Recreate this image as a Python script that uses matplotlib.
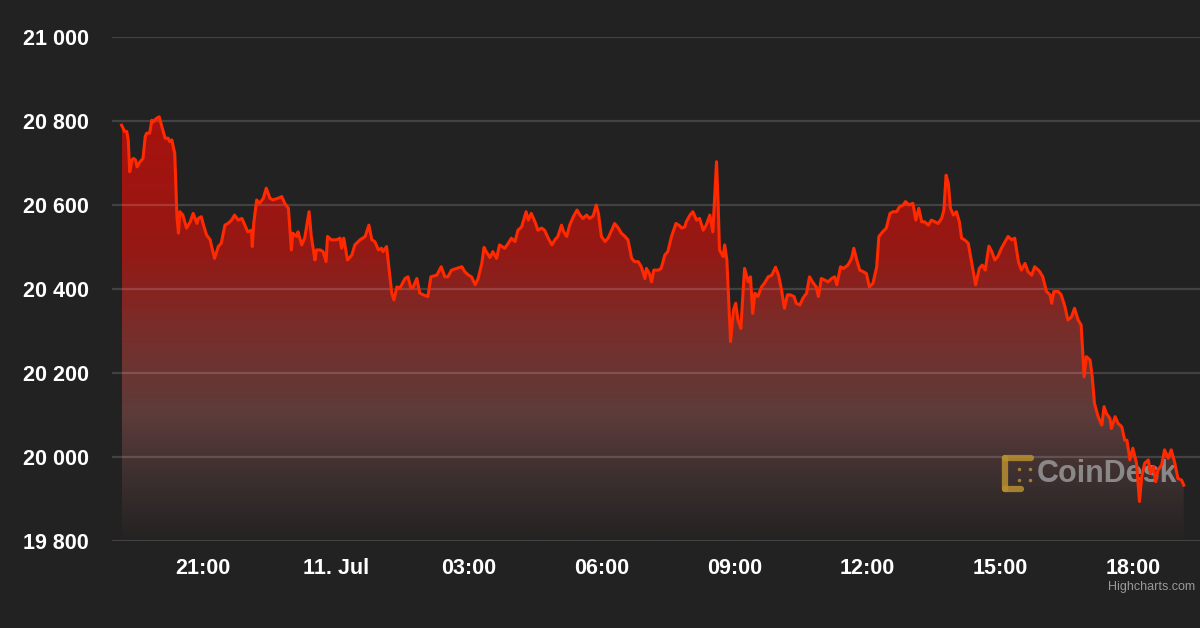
"""BTC price, last 24h - dark Highcharts look"""

import numpy as np
import pandas as pd
import matplotlib

matplotlib.use("Agg")
import matplotlib.pyplot as plt
import matplotlib.dates as mdates
from matplotlib.ticker import FuncFormatter
from matplotlib.colors import LinearSegmentedColormap
from matplotlib.lines import Line2D

START = "2022-07-10 19:10"

# minutes after START
minutes = [
    0, 2, 4, 7, 9, 11, 14, 16, 19, 21, 25, 29, 32, 34, 38, 41, 43, 47, 51, 54,
    59, 63, 65, 68, 72, 75, 77, 79, 83, 88, 93, 97, 102, 104, 108, 111, 115, 120, 122, 126,
    131, 135, 140, 144, 149, 153, 158, 163, 167, 171, 176, 177, 179, 183, 187, 192, 196, 201, 205, 212,
    217, 221, 226, 230, 232, 237, 239, 244, 248, 254,
    257, 262, 264, 269, 273, 277, 279, 284, 291, 296, 298, 301, 306, 312, 316, 323, 330, 335, 339, 343,
    348, 352, 354, 359, 361, 366, 369, 373, 377, 384, 388, 392, 395, 400, 404, 409, 415, 419, 427, 433,
    438, 442, 447, 454, 461, 465, 470, 474, 479, 483, 488, 491, 494, 499,
    503, 508, 512, 519, 524, 528, 533, 537, 542, 548, 551, 555, 560, 564, 569, 573, 578, 583, 587, 591,
    596, 599, 603, 607, 612, 617, 621, 625, 630, 634, 639, 643, 646, 650, 655, 659, 664, 668, 673, 677,
    682, 686, 691, 695, 700, 704, 709, 711, 715, 718, 721, 727, 731, 736, 740, 745, 751, 755, 759, 763,
    765, 770, 774, 779, 783, 788, 792, 797, 801, 806, 808, 810, 815, 817, 820, 823, 825, 829, 832, 835,
    839, 841, 844, 849, 852, 855, 858, 862, 867, 871, 876, 881, 886, 890, 894, 898, 902, 906, 911, 914,
    919, 923, 928, 932, 936, 941, 944, 948, 953, 957, 962, 966, 969, 974, 978, 984, 989, 992, 996, 1000,
    1005, 1009, 1013, 1018,
    1023, 1026, 1031, 1036, 1041, 1045, 1050, 1054, 1059, 1062, 1067, 1072, 1076, 1080, 1084, 1088, 1093, 1097, 1102, 1106,
    1111, 1114, 1117, 1120, 1123, 1127, 1131, 1135, 1138, 1142, 1147, 1151, 1157, 1162, 1166, 1170, 1175, 1179, 1183, 1187,
    1192, 1197, 1201, 1206, 1210, 1215, 1219, 1224, 1228, 1233, 1237, 1242,
    1244, 1248, 1253, 1258, 1260, 1263, 1269, 1273, 1278, 1282, 1287, 1291, 1296, 1300, 1304, 1307, 1312, 1315, 1318, 1323,
    1328, 1331, 1334, 1339, 1341, 1346, 1350, 1355, 1359, 1362, 1366, 1370, 1375, 1379, 1382, 1386, 1391, 1394, 1398, 1401,
    1404, 1409, 1413, 1418, 1422, 1427, 1431, 1436, 1439,
]

# BTC price in USD
price = [
    20790, 20783, 20775, 20775, 20755, 20679, 20707, 20711, 20707, 20691, 20703, 20711, 20763, 20771, 20771, 20802, 20798, 20806, 20810, 20790,
    20759, 20759, 20751, 20755, 20723, 20572, 20533, 20584, 20576, 20545, 20560, 20580, 20556, 20568, 20572, 20552, 20529, 20517, 20501, 20473,
    20501, 20509, 20552, 20556, 20564, 20576, 20564, 20568, 20552, 20536, 20540, 20501, 20556, 20612, 20604, 20616, 20640, 20616, 20612, 20616,
    20620, 20604, 20592, 20493, 20533, 20525, 20536, 20505, 20521, 20584,
    20525, 20469, 20493, 20493, 20489, 20465, 20525, 20517, 20517, 20521, 20497, 20521, 20469, 20481, 20505, 20517, 20525, 20552, 20517, 20513,
    20493, 20497, 20489, 20501, 20469, 20390, 20374, 20405, 20402, 20425, 20429, 20402, 20405, 20425, 20390, 20386, 20382, 20429, 20433, 20453,
    20429, 20429, 20445, 20449, 20453, 20441, 20433, 20429, 20410, 20425, 20461, 20499, 20489, 20475,
    20489, 20473, 20505, 20497, 20509, 20521, 20513, 20540, 20548, 20584, 20564, 20580, 20560, 20540, 20545, 20540, 20521, 20505, 20517, 20525,
    20552, 20536, 20525, 20552, 20572, 20588, 20576, 20568, 20576, 20568, 20574, 20600, 20580, 20525, 20513, 20521, 20540, 20556, 20545, 20533,
    20525, 20517, 20473, 20465, 20465, 20453, 20425, 20449, 20437, 20417, 20445, 20445, 20449, 20481, 20489, 20525, 20556, 20552, 20545, 20548,
    20560, 20576, 20584, 20564, 20568, 20540, 20552, 20576, 20536, 20703, 20612, 20493, 20477, 20505, 20469, 20350, 20275, 20350, 20366, 20326,
    20306, 20366, 20449, 20417, 20429, 20342, 20390, 20382, 20405, 20414, 20429, 20433, 20452, 20433, 20398, 20354, 20386, 20386, 20382, 20366,
    20362, 20378, 20390, 20429, 20417, 20405, 20382, 20425, 20421, 20417, 20425, 20429, 20410, 20453, 20449, 20457, 20473, 20497, 20469, 20445,
    20441, 20437, 20405, 20414,
    20453, 20525, 20536, 20545, 20580, 20584, 20584, 20596, 20600, 20608, 20600, 20604, 20564, 20592, 20560, 20560, 20552, 20564, 20560, 20556,
    20568, 20588, 20671, 20652, 20592, 20576, 20584, 20560, 20521, 20517, 20509, 20469, 20410, 20449, 20457, 20445, 20502, 20489, 20469, 20477,
    20497, 20513, 20525, 20517, 20521, 20465, 20445, 20461, 20441, 20433, 20453, 20445,
    20441, 20429, 20394, 20386, 20366, 20394, 20394, 20386, 20358, 20326, 20334, 20354, 20326, 20314, 20191, 20239, 20231, 20191, 20128, 20096,
    20076, 20120, 20104, 20092, 20068, 20096, 20080, 20072, 20040, 20040, 19993, 20021, 19985, 19894, 19953, 19985, 19993, 19961, 19977, 19941,
    19969, 19981, 20017, 19997, 20017, 19985, 19949, 19945, 19933,
]

y_ticks = [19800, 20000, 20200, 20400, 20600, 20800, 21000]

BG = "#222222"
LINE = "#ff2a00"

plt.rcParams["font.family"] = ["Liberation Sans", "DejaVu Sans"]

times = pd.Timestamp(START) + pd.to_timedelta(minutes, unit="m")
x = mdates.date2num(times.to_pydatetime())
y = np.array(price, dtype=float)

W, H = 1200, 628
fig = plt.figure(figsize=(W / 100, H / 100), dpi=100, facecolor=BG)
ax = fig.add_axes([112 / W, 1 - 541 / H, 1 - 112 / W, 504 / H])
ax.set_facecolor(BG)

# gradient area under the line
base = 19810
poly = ax.fill_between(x, y, base, facecolor="none", edgecolor="none")
grad_cmap = LinearSegmentedColormap.from_list(
    "fade",
    [
        (0.00, (38 / 255, 35 / 255, 35 / 255)),
        (0.14, (60 / 255, 47 / 255, 47 / 255)),
        (0.29, (92 / 255, 60 / 255, 58 / 255)),
        (0.49, (120 / 255, 46 / 255, 43 / 255)),
        (0.69, (150 / 255, 24 / 255, 20 / 255)),
        (1.00, (168 / 255, 18 / 255, 14 / 255)),
    ],
)
grad = np.linspace(0, 1, 256).reshape(-1, 1)
im = ax.imshow(grad, cmap=grad_cmap, aspect="auto", origin="lower",
               extent=[x.min(), x.max(), base, y.max()], zorder=1)
im.set_clip_path(poly.get_paths()[0], transform=ax.transData)

ax.plot(x, y, color=LINE, lw=2.2, solid_joinstyle="round", zorder=4)

ax.set_xlim(x[0] - 13 / 1440, x[0] + 1461 / 1440)
ax.set_ylim(19800, 21000)

ax.set_yticks(y_ticks)
ax.yaxis.set_major_formatter(FuncFormatter(lambda v, _: f"{v:,.0f}".replace(",", " ")))
ax.grid(axis="y", color="white", alpha=0.15, lw=1.6, zorder=2)
ax.set_axisbelow(False)


def time_label(v, _):
    d = mdates.num2date(v)
    if d.hour == 0:
        return f"{d.day}. {d:%b}"
    return f"{d:%H:%M}"


ax.xaxis.set_major_locator(mdates.HourLocator(byhour=range(0, 24, 3)))
ax.xaxis.set_major_formatter(FuncFormatter(time_label))

for s in ax.spines.values():
    s.set_visible(False)
ax.tick_params(axis="y", length=0, pad=16.5, labelsize=15.5, labelcolor="white")
ax.tick_params(axis="x", length=0, pad=12, labelsize=15.5, labelcolor="white")
for lab in ax.get_xticklabels() + ax.get_yticklabels():
    lab.set_fontweight("bold")

# watermark
tf = fig.transFigure
def fx(px):
    return px / W
def fy(px):
    return 1 - px / H

gold = (0.72, 0.56, 0.19, 0.85)
for seg in [((1005, 1031), (458, 458)), ((1005, 1005), (458, 489)), ((1005, 1021), (489, 489))]:
    ax.add_line(Line2D([fx(p) for p in seg[0]], [fy(p) for p in seg[1]], transform=tf,
                       color=gold, lw=4.5, solid_capstyle="round", zorder=3))
ax.plot([fx(1019), fx(1030), fx(1019), fx(1030)], [fy(469), fy(469), fy(480), fy(480)],
        "o", ms=2.5, color=gold, mec="none", transform=tf, zorder=3)
ax.text(fx(1037), fy(474), "CoinDesk", transform=tf, color=(0.62, 0.62, 0.62, 0.8),
        fontsize=22, fontweight="bold", ha="left", va="center", zorder=3)

fig.text(fx(1195), fy(587), "Highcharts.com", color="#999999", fontsize=9,
         ha="right", va="center")

fig.savefig("out.png", dpi=100, facecolor=BG)
